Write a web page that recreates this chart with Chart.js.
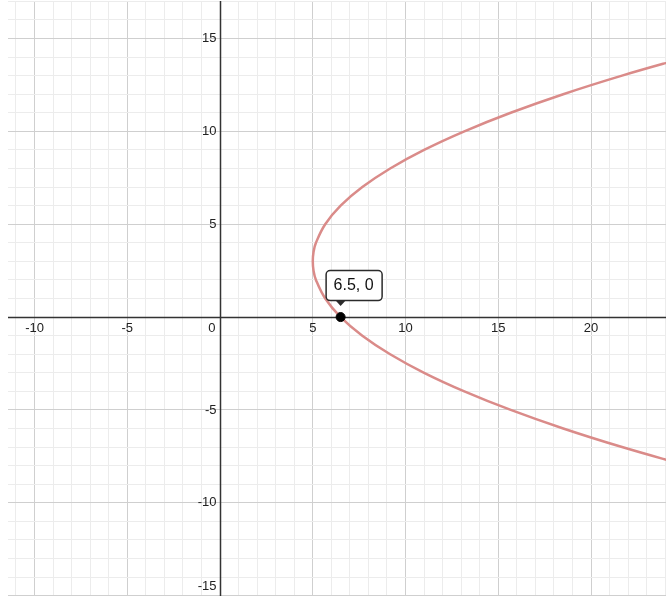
<!DOCTYPE html>
<html><head><meta charset="utf-8">
<script src="https://cdn.jsdelivr.net/npm/chart.js@4/dist/chart.umd.min.js"></script>
<style>html,body{margin:0;padding:0;background:#fff}#wrap{width:666px;height:596px}</style>
</head><body><div id="wrap"><canvas id="c" width="666" height="596"></canvas></div>
<script>
// Curve points (x, y)
const curveX = [25.17, 21.67, 18.5, 15.67, 13.17, 11, 9.17, 7.67, 6.5, 5.67, 5.17, 5.04, 5, 5.04, 5.17, 5.67, 6.5, 7.67, 9.17, 11, 13.17, 15.67, 18.5, 21.67, 25.17];
const curveY = [14, 13, 12, 11, 10, 9, 8, 7, 6, 5, 4, 3.5, 3, 2.5, 2, 1, 0, -1, -2, -3, -4, -5, -6, -7, -8];
// Highlighted point
const pointX = [6.5];
const pointY = [0];
const pointLabel = "6.5, 0";
// Axis tick labels
const xTickValues = [-10, -5, 5, 10, 15, 20];
const yTickValues = [15, 10, 5, -5, -10, -15];

const curveData = curveX.map((x, i) => ({x: x, y: curveY[i]}));
const pointData = pointX.map((x, i) => ({x: x, y: pointY[i]}));

function intTicks(axis) {
  const t = [];
  for (let v = Math.ceil(axis.min); v <= Math.floor(axis.max); v++) t.push({value: v});
  axis.ticks = t;
}
function gridColor(ctx) {
  const v = ctx.tick ? ctx.tick.value : 0;
  if (v === 0) return 'rgba(0,0,0,0)';
  return (v % 5 === 0) ? '#cfcfcf' : '#ececec';
}

const overlay = {
  id: 'overlay',
  beforeDatasetsDraw(chart) {
    const {ctx, scales: {x, y}, chartArea: a} = chart;
    ctx.save();
    ctx.strokeStyle = '#333';
    ctx.lineWidth = 1.5;
    const x0 = Math.round(x.getPixelForValue(0)) + 0.5;
    const y0 = Math.round(y.getPixelForValue(0)) + 0.5;
    ctx.beginPath(); ctx.moveTo(x0, a.top); ctx.lineTo(x0, a.bottom); ctx.stroke();
    ctx.beginPath(); ctx.moveTo(a.left, y0); ctx.lineTo(a.right, y0); ctx.stroke();
    ctx.fillStyle = '#222';
    ctx.font = '13px "Liberation Sans", Arial, sans-serif';
    ctx.textBaseline = 'middle';
    ctx.textAlign = 'center';
    xTickValues.forEach(v => ctx.fillText(String(v), x.getPixelForValue(v), y0 + 11));
    ctx.textAlign = 'right';
    ctx.fillText('0', x0 - 5, y0 + 11);
    yTickValues.forEach(v => {
      const py = Math.min(Math.max(y.getPixelForValue(v), a.top + 9), a.bottom - 10);
      ctx.fillText(String(v), x0 - 4, py);
    });
    ctx.restore();
  },
  afterDatasetsDraw(chart) {
    const {ctx, scales: {x, y}} = chart;
    const px = x.getPixelForValue(pointX[0]);
    const py = y.getPixelForValue(pointY[0]);
    ctx.save();
    ctx.font = '16px "Liberation Sans", Arial, sans-serif';
    const w = 56, h = 30;
    const bx = px - 15, by = py - 47;
    ctx.fillStyle = '#fff';
    ctx.strokeStyle = '#2b2b2b';
    ctx.lineWidth = 1.5;
    ctx.beginPath();
    ctx.roundRect(bx + 0.5, by + 0.5, w, h, 4);
    ctx.fill(); ctx.stroke();
    ctx.fillStyle = '#2b2b2b';
    ctx.beginPath();
    ctx.moveTo(px - 5, by + h + 0.5);
    ctx.lineTo(px + 5, by + h + 0.5);
    ctx.lineTo(px, by + h + 6);
    ctx.closePath(); ctx.fill();
    ctx.fillStyle = '#111';
    ctx.textAlign = 'center';
    ctx.textBaseline = 'middle';
    ctx.fillText(pointLabel, bx + w / 2, by + h / 2 + 1);
    ctx.restore();
  }
};

new Chart(document.getElementById('c'), {
  type: 'scatter',
  data: {
    datasets: [
      {data: pointData, showLine: false, pointRadius: 4.5, pointBackgroundColor: '#000', pointBorderColor: '#000', order: 0},
      {data: curveData, showLine: true, borderColor: '#da8b89', borderWidth: 2.5, pointRadius: 0, tension: 0.4, fill: false, order: 1}
    ]
  },
  options: {
    responsive: false, animation: false,
    layout: {autoPadding: false, padding: {left: 8, top: 1, right: 0, bottom: 0}},
    plugins: {legend: {display: false}, tooltip: {enabled: false}},
    scales: {
      x: {type: 'linear', min: -11.43, max: 24.04, afterBuildTicks: intTicks,
          afterFit: (s) => { s.height = 0; },
          grid: {color: gridColor, lineWidth: 1, drawTicks: false}, border: {display: false},
          ticks: {display: false}},
      y: {type: 'linear', min: -15.02, max: 17.02, afterBuildTicks: intTicks,
          afterFit: (s) => { s.width = 0; },
          grid: {color: gridColor, lineWidth: 1, drawTicks: false}, border: {display: false},
          ticks: {display: false}}
    }
  },
  plugins: [overlay]
});
</script>
</body></html>
